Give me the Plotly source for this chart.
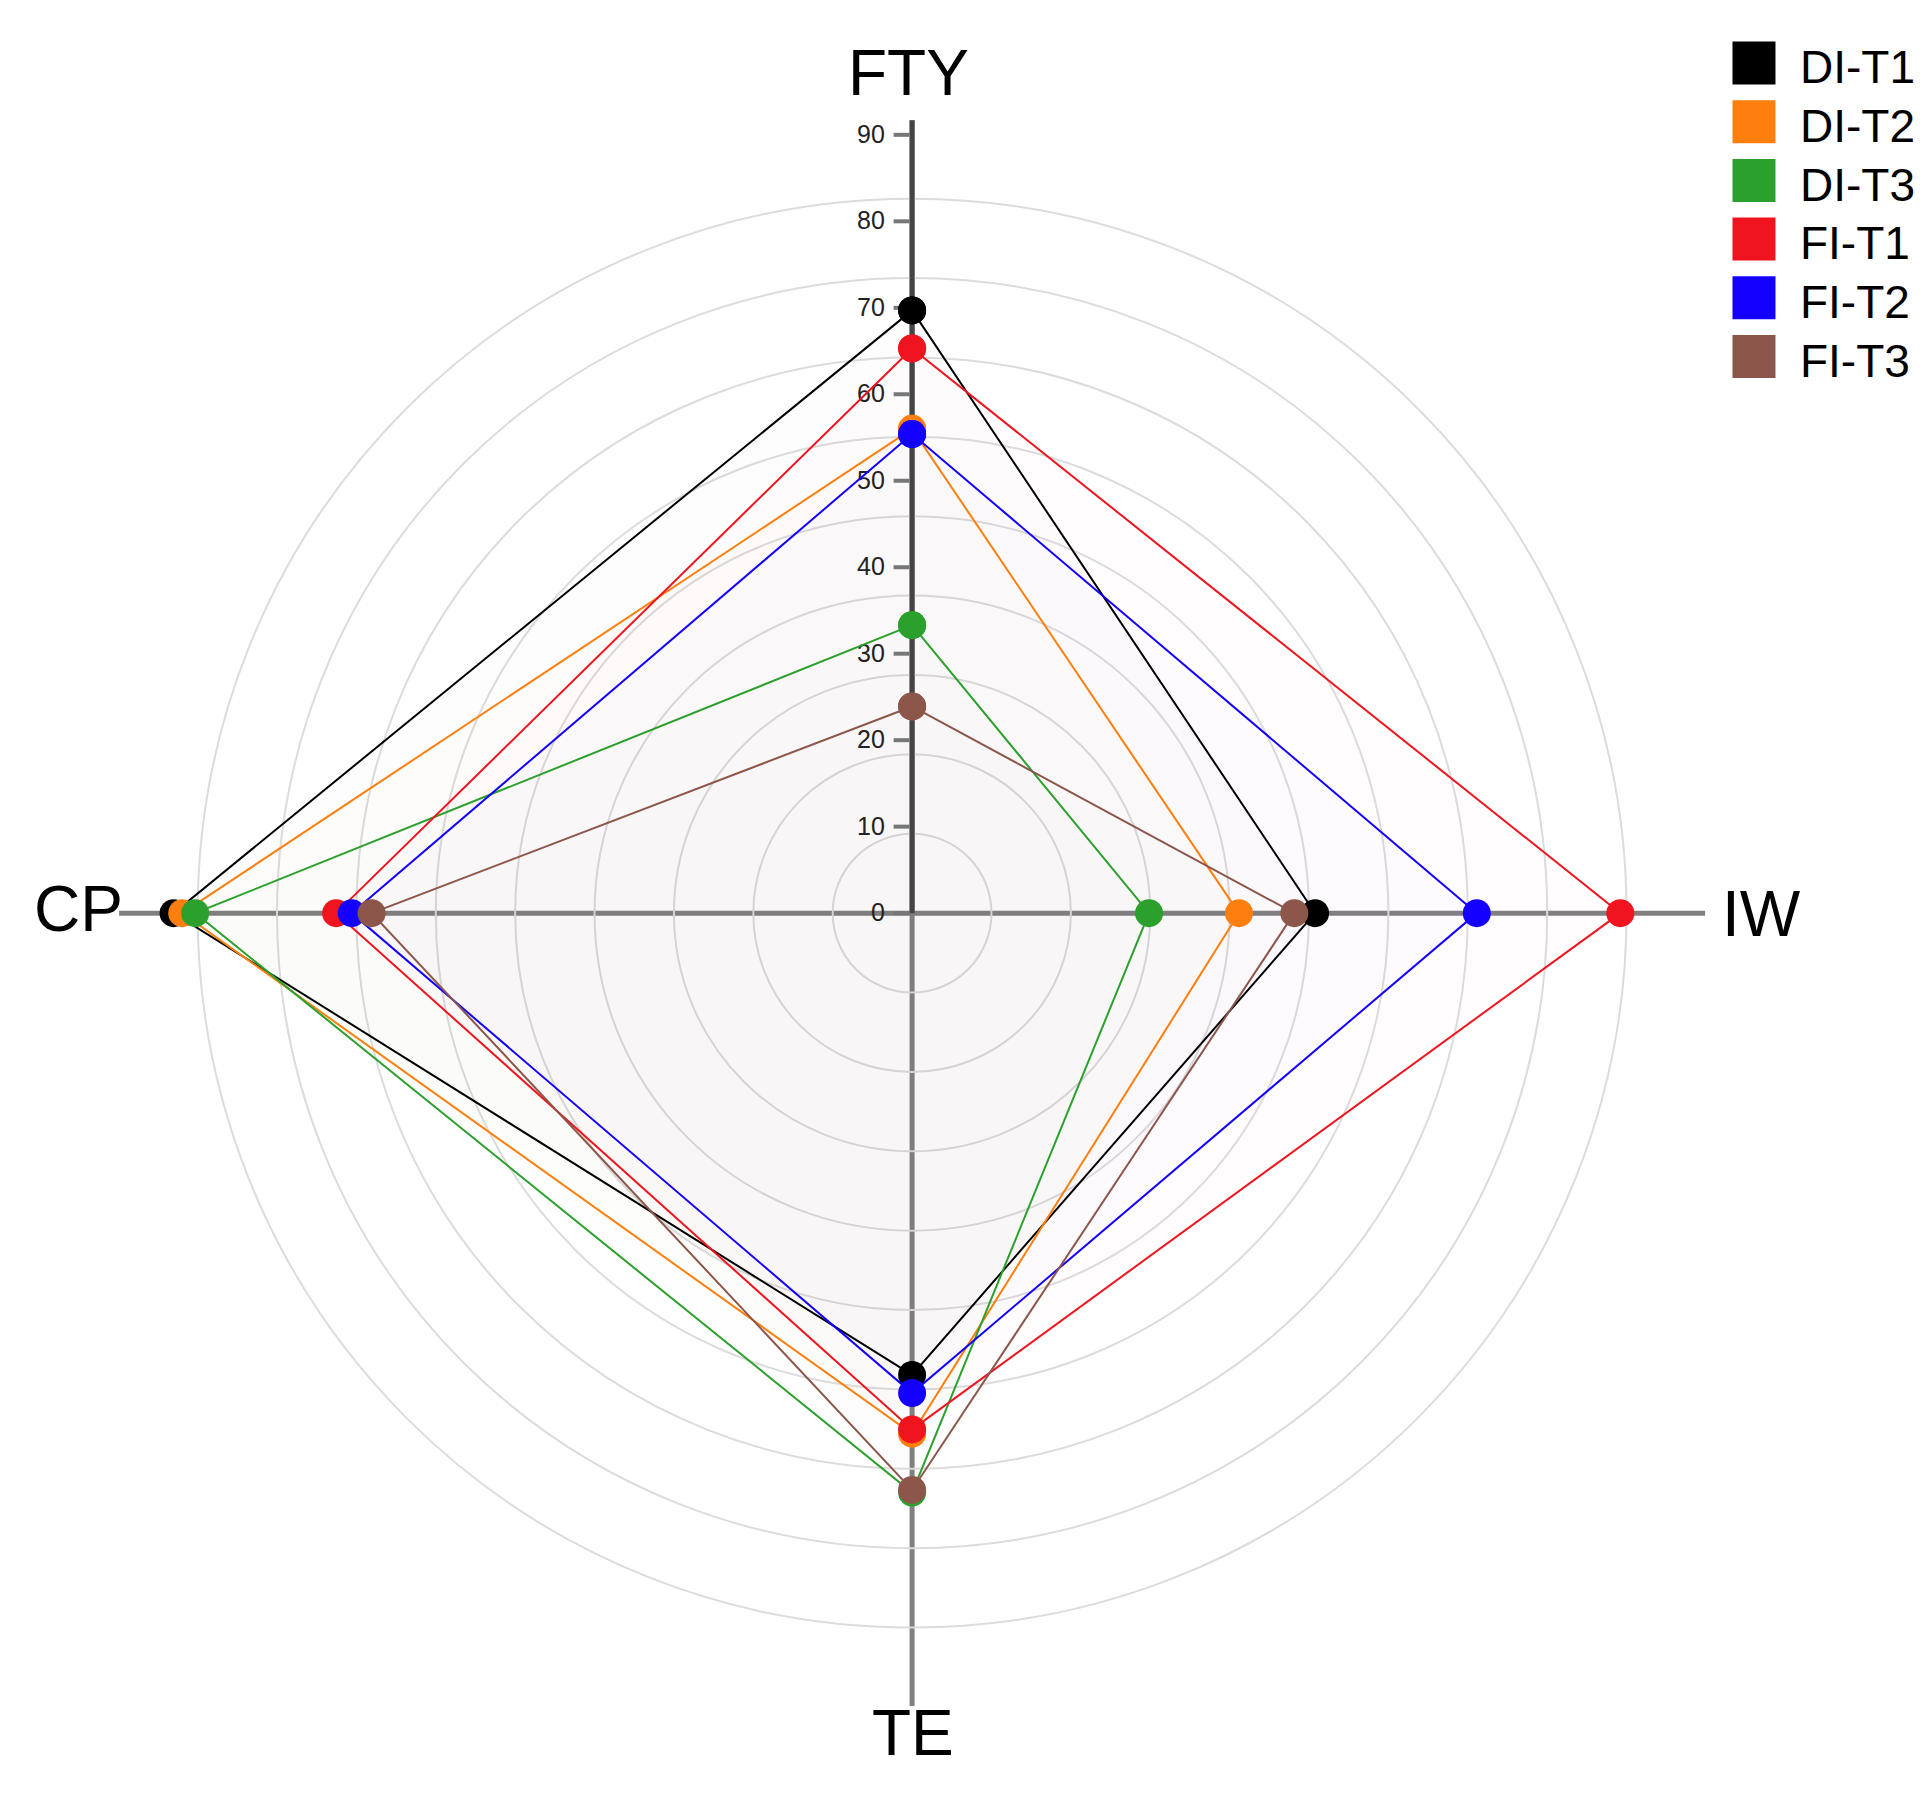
import plotly.graph_objects as go

# axes of the radar (clockwise from the top)
categories = ["FTY", "IW", "TE", "CP"]
angles = [0, 90, 180, 270]

series_names = ["DI-T1", "DI-T2", "DI-T3", "FI-T1", "FI-T2", "FI-T3"]
series_colors = ["#000000", "#ff7f0e", "#2ca02c", "#f0141e", "#1400ff", "#8c564b"]

# values, order: FTY, IW, TE, CP
di_t1 = [69.7, 46.6, 53.4, 85.4]
di_t2 = [56.0, 37.8, 60.2, 84.4]
di_t3 = [33.3, 27.4, 67.0, 82.9]
fi_t1 = [65.3, 81.9, 59.7, 66.6]
fi_t2 = [55.4, 65.3, 55.5, 64.8]
fi_t3 = [23.9, 44.2, 66.7, 62.5]
all_values = [di_t1, di_t2, di_t3, fi_t1, fi_t2, fi_t3]

radial_ticks = [0, 10, 20, 30, 40, 50, 60, 70, 80, 90]
grid_step = 9.18
n_levels = 9
r_max = 91.7

FONT = "Liberation Sans, Arial, sans-serif"

# where the axis names sit (paper coords), same order as categories
label_pos = [(0.4661, 0.9639), (0.9083, 0.4967), (0.4687, 0.0417), (0.0363, 0.4994)]


def rgba(hexcol, a):
    h = hexcol.lstrip("#")
    return "rgba(%d,%d,%d,%s)" % (int(h[0:2], 16), int(h[2:4], 16), int(h[4:6], 16), a)


fig = go.Figure()

# faint area fills go on the bottom polar (with the grid circles)
for name, col, vals in zip(series_names, series_colors, all_values):
    fig.add_trace(go.Scatterpolar(
        r=vals + vals[:1], theta=angles + angles[:1],
        subplot="polar", mode="none", fill="toself",
        fillcolor=rgba(col, 0.006), showlegend=False, hoverinfo="skip"))

# lines and dots on the top polar
for name, col, vals in zip(series_names, series_colors, all_values):
    fig.add_trace(go.Scatterpolar(
        r=vals + vals[:1], theta=angles + angles[:1],
        subplot="polar2", mode="lines+markers", name=name,
        line=dict(color=col, width=2),
        marker=dict(color=col, size=28),
        showlegend=False))

# legend drawn as a small scatter panel (squares + labels)
rows = list(range(len(series_names)))
fig.add_trace(go.Scatter(
    x=[46.7] * len(rows), y=rows, mode="markers",
    marker=dict(symbol="square", size=43, color=series_colors, line=dict(width=0)),
    xaxis="x", yaxis="y", showlegend=False, hoverinfo="skip", cliponaxis=False))
fig.add_trace(go.Scatter(
    x=[92.7] * len(rows), y=rows, mode="text", text=series_names,
    textposition="middle right",
    textfont=dict(family=FONT, size=46, color="#000000"),
    xaxis="x", yaxis="y2", showlegend=False, hoverinfo="skip", cliponaxis=False))

# page body has an 8px margin, so domains are nudged left/up by 8px
dom_x = [0.0575, 0.8789]
dom_y = [0.0566, 0.9377]

fig.update_layout(
    width=1931, height=1800,
    margin=dict(l=0, r=0, t=0, b=0),
    paper_bgcolor="white", plot_bgcolor="rgba(0,0,0,0)",
    showlegend=False,
    polar=dict(
        domain=dict(x=dom_x, y=dom_y),
        bgcolor="white",
        radialaxis=dict(
            range=[0, r_max],
            tickvals=[grid_step * (k + 1) for k in range(n_levels)],
            showticklabels=False, ticks="", showline=False,
            showgrid=True, gridcolor="#dcdcdc", gridwidth=2,
        ),
        angularaxis=dict(
            rotation=90, direction="clockwise",
            tickvals=angles, showticklabels=False,
            ticks="", showline=False,
            showgrid=True, gridcolor="#808080", gridwidth=5,
        ),
    ),
    polar2=dict(
        domain=dict(x=dom_x, y=dom_y),
        bgcolor="rgba(0,0,0,0)",
        radialaxis=dict(
            range=[0, r_max], angle=90, side="counterclockwise",
            tickvals=radial_ticks, tickangle=90,
            tickfont=dict(family=FONT, size=25, color="#222222"),
            ticks="outside", ticklen=16, tickwidth=4, tickcolor="#777777",
            showline=True, linecolor="#444444", linewidth=5,
            showgrid=False, layer="below traces",
        ),
        angularaxis=dict(
            rotation=90, direction="clockwise",
            tickvals=angles, showticklabels=False, ticks="",
            showline=False, showgrid=False,
        ),
    ),
    xaxis=dict(domain=[0.88, 1.0], range=[0, 231.7], visible=False, fixedrange=True),
    yaxis=dict(domain=[1 - 400 / 1800, 1.0], range=[5.877, -0.937], visible=False, fixedrange=True),
    yaxis2=dict(overlaying="y", range=[5.727, -1.087], visible=False, fixedrange=True),
)

for cat, (px_, py_) in zip(categories, label_pos):
    fig.add_annotation(x=px_, y=py_, xref="paper", yref="paper", text=cat,
                       showarrow=False, xanchor="center", yanchor="middle",
                       font=dict(family=FONT, size=64, color="#000000"))

fig.write_html("out.html", config={"displayModeBar": False})
